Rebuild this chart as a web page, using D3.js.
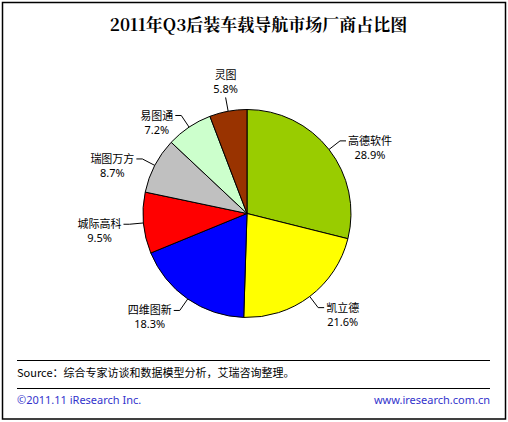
<!DOCTYPE html>
<html><head><meta charset="utf-8">
<script src="https://cdn.jsdelivr.net/npm/d3@7"></script>
<style>body{margin:0;background:#fff}svg{display:block}</style>
</head><body>
<script>
const categories = ["高德软件","凯立德","四维图新","城际高科","瑞图万方","易图通","灵图"];
const shares = [28.9, 21.6, 18.3, 9.5, 8.7, 7.2, 5.8];
const colors = ["#99CC00","#FFFF00","#0000FF","#FF0000","#C0C0C0","#CCFFCC","#993300"];
const titleText = "2011年Q3后装车载导航市场厂商占比图";
const sourceText = "Source：综合专家访谈和数据模型分析，艾瑞咨询整理。";
const footLeft = "©2011.11 iResearch Inc.";
const footRight = "www.iresearch.com.cn";

const W = 508, H = 422;
const svg = d3.select("body").append("svg").attr("width", W).attr("height", H);
svg.append("rect").attr("x",2.5).attr("y",2.5).attr("width",503).attr("height",416.5)
  .attr("fill","#fff").attr("stroke","#000").attr("stroke-width",1.5);

svg.append("text").attr("x",258.5).attr("y",31).attr("text-anchor","middle")
  .attr("font-family","'Noto Serif CJK SC','Noto Sans CJK SC',serif").attr("font-weight","bold")
  .attr("font-size",17).attr("fill","#000").text(titleText);

const cx = 247, cy = 213.5, r = 104;
const g = svg.append("g").attr("transform",`translate(${cx},${cy})`);
const data = categories.map((c,i)=>({name:c, value:shares[i], color:colors[i]}));
const pie = d3.pie().value(d=>d.value).sort(null);
const arc = d3.arc().innerRadius(0).outerRadius(r);
const arcs = pie(data);
g.selectAll("path.s").data(arcs).join("path").attr("class","s")
  .attr("d",arc).attr("fill",d=>d.data.color).attr("stroke","#000").attr("stroke-width",1);

const nameFont = "'Noto Sans CJK SC',sans-serif";
const pctFont = "'Noto Sans','DejaVu Sans',sans-serif";
const fmt = d3.format(".1f");
arcs.forEach(d=>{
  const a = (d.startAngle + d.endAngle)/2;
  const sx = Math.sin(a), sy = -Math.cos(a);
  const p0 = [r*sx, r*sy];
  const p1 = [(r+14)*sx, (r+14)*sy];
  const lg = g.append("g");
  if (Math.abs(sx) < 0.3) {
    lg.append("path").attr("d",d3.line()([p0,p1])).attr("stroke","#000").attr("fill","none");
    lg.append("text").attr("x",p1[0]).attr("y",p1[1]-4).attr("text-anchor","middle")
      .attr("font-family",pctFont).attr("font-size",11).text(fmt(d.data.value)+"%");
    lg.append("text").attr("x",p1[0]).attr("y",p1[1]-18).attr("text-anchor","middle")
      .attr("font-family",nameFont).attr("font-size",11).text(d.data.name);
  } else {
    const dir = sx > 0 ? 1 : -1;
    const p2 = [p1[0] + dir*6, p1[1]];
    lg.append("path").attr("d",d3.line()([p0,p1,p2])).attr("stroke","#000").attr("fill","none");
    const nm = lg.append("text").attr("y",p2[1]+4)
      .attr("font-family",nameFont).attr("font-size",11).text(d.data.name);
    const w = nm.node().getComputedTextLength();
    const left = dir > 0 ? p2[0] + 2 : p2[0] - 2 - w;
    nm.attr("x",left);
    lg.append("text").attr("x",left + w/2).attr("y",p2[1]+18).attr("text-anchor","middle")
      .attr("font-family",pctFont).attr("font-size",11).text(fmt(d.data.value)+"%");
  }
});

svg.append("line").attr("x1",17).attr("x2",490).attr("y1",360.5).attr("y2",360.5).attr("stroke","#000");
svg.append("line").attr("x1",17).attr("x2",490).attr("y1",388.5).attr("y2",388.5).attr("stroke","#000");
svg.append("text").attr("x",17).attr("y",377).attr("font-family",nameFont).attr("font-size",11)
  .attr("fill","#000").text(sourceText);
svg.append("text").attr("x",17).attr("y",404).attr("font-family",pctFont).attr("font-size",11)
  .attr("fill","#3333CC").text(footLeft);
svg.append("text").attr("x",490).attr("y",404).attr("text-anchor","end").attr("font-family",pctFont).attr("font-size",11)
  .attr("fill","#3333CC").text(footRight);
</script>
</body></html>
